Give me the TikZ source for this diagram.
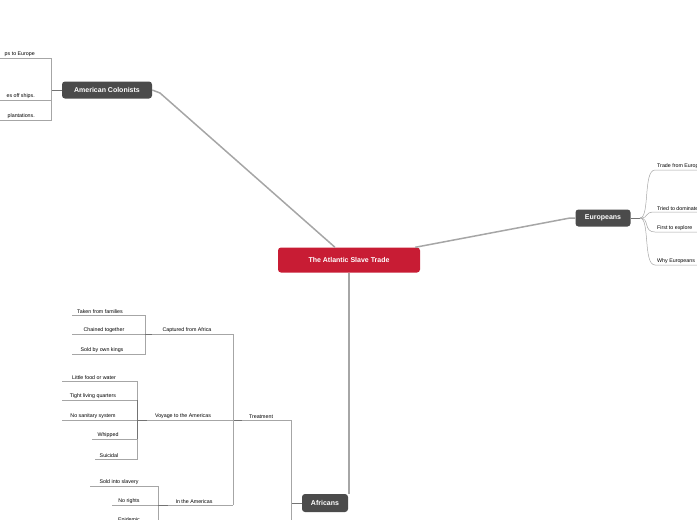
\documentclass[tikz,border=0pt]{standalone}
\usepackage{fontspec}
\setmainfont{Liberation Sans}
\definecolor{crim}{RGB}{200,28,52}
\definecolor{dk}{RGB}{75,75,75}
\begin{document}
\begin{tikzpicture}[x=1pt,y=-1pt,
  main/.style={fill=#1,text=white,rounded corners=3pt,font=\bfseries\fontsize{7}{8}\selectfont,inner sep=0pt},
  lbl/.style={font=\fontsize{5.3}{6}\selectfont,inner sep=0pt},
  ln/.style={draw=gray!70,line width=0.5pt},
  br/.style={draw=gray!90!black,line width=0.6pt},
  thick1/.style={draw=gray!70,line width=1.5pt}]
\useasboundingbox (0,0) rectangle (697,520);
\clip (0,0) rectangle (697,520);
\node[main=crim,minimum width=142pt,minimum height=25pt] (c) at (349,260) {The Atlantic Slave Trade};
\node[main=dk,minimum width=55pt,minimum height=17pt] (eu) at (603,218) {Europeans};
\node[main=dk,minimum width=90pt,minimum height=17pt] (am) at (107,90) {American Colonists};
\node[main=dk,minimum width=46pt,minimum height=18pt] (af) at (325,503) {Africans};
% main connectors
\draw[thick1] (c.north) ++(-14,0) coordinate (c1) (c1) -- (160,93) coordinate (k1) -- (am.east);
\draw[thick1] (c.north east) ++(-5,0) coordinate (c2) (c2) -- (570,218) coordinate (k2) -- (eu.west);
\draw[thick1] (c.south) coordinate (c3) -- (c3 |- af.north);
% American Colonists
\coordinate (ab) at (51,90);
\draw[br] (am.west) -- (ab);
\draw[ln] (0,58) -| (51,120) -- (0,120);
\draw[ln] (0,100) -- (51,100);
\node[lbl,anchor=south east] (a1) at (35,57) {ps to Europe};
\node[lbl,anchor=south east] (a2) at (35,99) {es off ships.};
\node[lbl,anchor=south east] (a3) at (35,119) {plantations.};
% Europeans
\coordinate (eb) at (640,218);
\draw[br] (eu.east) -- (eb);
\foreach \y/\t in {170/Trade from Europe,212/Tried to dominate,232/First to explore,265/Why Europeans}{
  \draw[ln] (eb) .. controls (650,218) and (643,\y) .. (655,\y) -- (697,\y);
  \node[lbl,anchor=south west] at (657,\y-1) {\t};
}
% Africans
\draw[br] (af.west) -- (291,503);
\draw[ln] (291,420) -- (291,520);
\draw[ln] (242,420) -- (291,420);
\node[lbl,anchor=south] (tr) at (261,419) {Treatment};
\draw[br] (233,420) -- (242,420);
\draw[ln] (233,334) -- (233,505);
\draw[ln] (145,334) -- (233,334); \node[lbl,anchor=south] (ca) at (187,333) {Captured from Africa};
\draw[ln] (147,420) -- (233,420); \node[lbl,anchor=south] (vo) at (183,419) {Voyage to the Americas};
\draw[ln] (157,505) -- (233,505); \node[lbl,anchor=south] (ia) at (194,504) {In the Americas};
% captured
\draw[ln] (72,315) -| (145,354) -- (72,354);
\draw[ln] (72,334) -- (145,334);
\draw[br] (145,334) -- (152,334);
\node[lbl,anchor=south] at (100,314) {Taken from families};
\node[lbl,anchor=south] at (104,333) {Chained together};
\node[lbl,anchor=south] at (102,353) {Sold by own kings};
% voyage
\draw[ln] (62,381) -| (137,459) -- (95,459);
\draw[ln] (62,400) -- (137,400);
\draw[ln] (62,420) -- (137,420);
\draw[ln] (92,439) -- (137,439);
\draw[br] (137,400) -- (137,439) (137,420) -- (147,420);
\node[lbl,anchor=south] at (94,380) {Little food or water};
\node[lbl,anchor=south] at (93,399) {Tight living quarters};
\node[lbl,anchor=south] at (93,419) {No sanitary system};
\node[lbl,anchor=south] at (108,438) {Whipped};
\node[lbl,anchor=south] at (109,458) {Suicidal};
% in the americas
\draw[ln] (90,486) -| (158,520);
\draw[ln] (112,505) -- (158,505);
\draw[br] (158,505) -- (168,505);
\node[lbl,anchor=south] at (119,485) {Sold into slavery};
\node[lbl,anchor=south] at (129,504) {No rights};
\node[lbl,anchor=south] at (129,523) {Epidemic};
\end{tikzpicture}
\end{document}
